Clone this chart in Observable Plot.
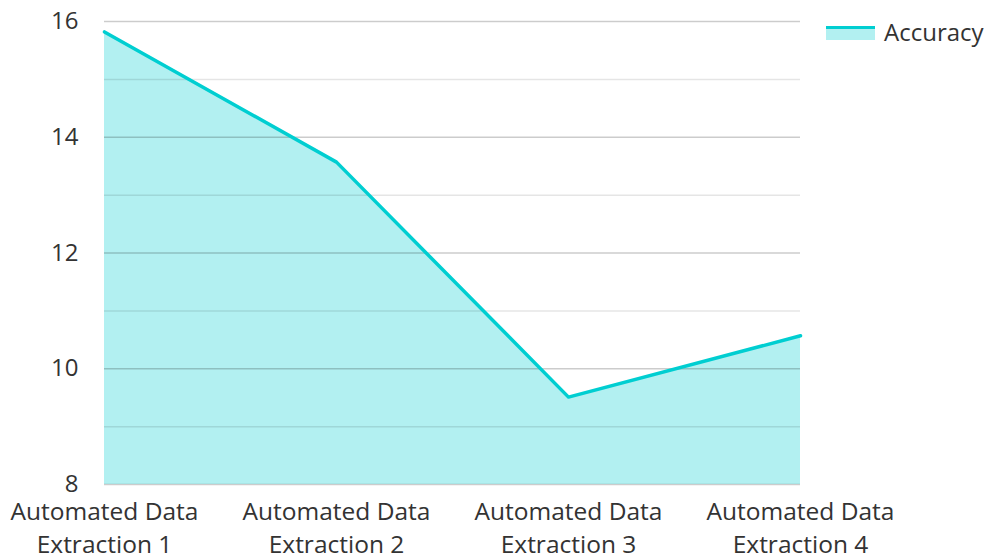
<!DOCTYPE html>
<html>
<head>
<meta charset="utf-8">
<script src="https://cdn.jsdelivr.net/npm/d3@7"></script>
<script src="https://cdn.jsdelivr.net/npm/@observablehq/plot@0.6"></script>
<style>
  html, body { margin: 0; padding: 0; background: #fff; }
  #wrap { position: relative; width: 989px; height: 555px; font-family: "Open Sans", sans-serif; }
  #legend { position: absolute; left: 826px; top: 15px; display: flex; align-items: center; font-size: 24px; color: #333; }
  #legend .sw { width: 49px; height: 14px; background: rgba(0,206,209,0.3); border-top: 3px solid #00CED1; box-sizing: border-box; margin-right: 9px; margin-top: 2px; }
</style>
</head>
<body>
<div id="wrap"><div id="legend"><div class="sw"></div><span>Accuracy</span></div></div>
<script>
const categories = ["Automated Data\nExtraction 1", "Automated Data\nExtraction 2", "Automated Data\nExtraction 3", "Automated Data\nExtraction 4"];
const accuracy = [15.82, 13.57, 9.51, 10.57];
const majorTicks = [8, 10, 12, 14, 16];
const minorTicks = [9, 11, 13, 15];

const data = categories.map((c, i) => ({c, v: accuracy[i]}));

const chart = Plot.plot({
  width: 989,
  height: 555,
  marginLeft: 104,
  marginRight: 189,
  marginTop: 21,
  marginBottom: 71,
  style: {fontFamily: "Open Sans, sans-serif", fontSize: "24px", color: "#333", background: "transparent", overflow: "visible"},
  x: {type: "point", domain: categories, padding: 0},
  y: {domain: [8, 16]},
  marks: [
    Plot.areaY(data, {x: "c", y1: 8, y2: "v", fill: "#00CED1", fillOpacity: 0.3}),
    Plot.ruleY(minorTicks, {stroke: "#000", strokeOpacity: 0.1, strokeWidth: 1.5}),
    Plot.ruleY(majorTicks, {stroke: "#000", strokeOpacity: 0.2, strokeWidth: 1.5}),
    Plot.lineY(data, {x: "c", y: "v", stroke: "#00CED1", strokeWidth: 3.5}),
    Plot.axisY(majorTicks, {tickSize: 0, tickPadding: 26, fontSize: 24, label: null, fill: "#333", tickFormat: d => String(d)}),
    Plot.axisX({tickSize: 0, tickPadding: 12, fontSize: 24.5, label: null, lineHeight: 1.35, fill: "#333"})
  ]
});
document.getElementById("wrap").prepend(chart);
chart.style.position = "absolute";
chart.style.left = "0";
chart.style.top = "0";
</script>
</body>
</html>
